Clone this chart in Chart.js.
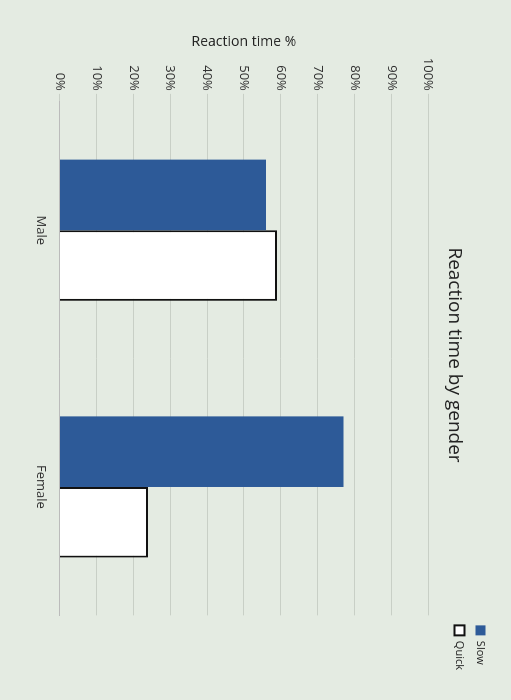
<!DOCTYPE html>
<html><head><meta charset="utf-8">
<script src="https://cdn.jsdelivr.net/npm/chart.js@4"></script>
<style>
html,body{margin:0;padding:0;background:#e4ebe2;overflow:hidden;}
#wrap{position:absolute;left:0;top:0;width:700px;height:511px;transform-origin:0 0;transform:translate(511px,0) rotate(90deg);}
</style></head><body>
<div id="wrap"><canvas id="c" width="700" height="511"></canvas></div>
<script>
const categories = ["Male", "Female"];
const slowValues = [56, 77];
const quickValues = [59, 24];
const tickLabels = ["0%","10%","20%","30%","40%","50%","60%","70%","80%","90%","100%"];
new Chart(document.getElementById('c'), {
  type: 'bar',
  data: {
    labels: categories,
    datasets: [
      {label: 'Slow', data: slowValues, backgroundColor: '#2d5a98', borderWidth: 0},
      {label: 'Quick', data: quickValues, backgroundColor: '#ffffff', borderColor: '#111', borderWidth: 2}
    ]
  },
  options: {
    responsive: false, animation: false,
    layout: {padding: {left: 30, right: 20, top: 15, bottom: 30}},
    categoryPercentage: 0.55, barPercentage: 1.0,
    plugins: {
      title: {display: true, text: 'Reaction time by gender', color: '#222', font: {family: 'Open Sans', size: 19, weight: 'normal'}, padding: {top: 30, bottom: 15}},
      legend: {position: 'right', align: 'start', labels: {boxWidth: 10, boxHeight: 10, color: '#222', font: {family: 'Open Sans', size: 11}}}
    },
    scales: {
      x: {grid: {display: false}, border: {color: '#bbb'}, ticks: {color: '#333', font: {family: 'Open Sans', size: 13}}},
      y: {min: 0, max: 100, ticks: {stepSize: 10, color: '#333', font: {family: 'Open Sans', size: 13}, callback: (v, i) => tickLabels[i]},
          grid: {color: '#c8cfc6'}, border: {display: false},
          title: {display: true, text: 'Reaction time %', color: '#222', font: {family: 'Open Sans', size: 14}}}
    }
  }
});
</script>
</body></html>
